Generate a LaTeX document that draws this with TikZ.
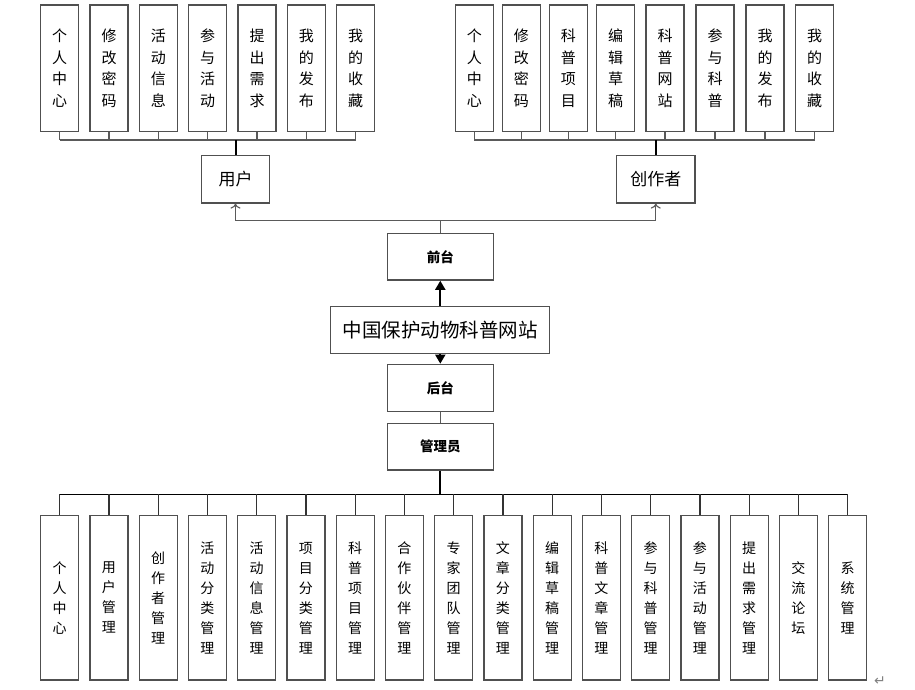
\documentclass[tikz,border=0pt]{standalone}
\usepackage{fontspec}
\newfontfamily\cjk{Noto Sans CJK SC}
\newfontfamily\sym{DejaVu Sans}
\usetikzlibrary{arrows.meta}
\definecolor{boxgray}{RGB}{80,80,80}
\definecolor{linegray}{RGB}{90,90,90}
\begin{document}
\begin{tikzpicture}[x=1pt,y=-1pt,
  box/.style={draw=boxgray, line width=1.3pt, fill=white, inner sep=0pt, align=center},
  topbox/.style={box, minimum width=38, minimum height=126.7, font=\cjk\fontsize{15}{21.7}\selectfont},
  botbox/.style={box, minimum width=38, minimum height=164.3, font=\cjk\fontsize{14}{20}\selectfont},
  rolebox/.style={box, minimum height=47.3, font=\cjk\fontsize{17}{20}\selectfont},
  midbox/.style={box, minimum width=106, minimum height=46.8, font=\cjk\bfseries\fontsize{13.5}{16}\selectfont},
  conn/.style={draw=linegray, line width=1.1pt},
  openarr/.style={conn, -{To[length=5pt,width=10pt]}},
  thickc/.style={draw=black, line width=2pt},
  filledarr/.style={draw=black, line width=1.8pt, -{Triangle[length=9pt,width=10pt]}}
]
\useasboundingbox (0,0) rectangle (915,689);

% ---- top-left (user) ----
\foreach \t [count=\i] in {{个\\人\\中\\心},{修\\改\\密\\码},{活\\动\\信\\息},{参\\与\\活\\动},{提\\出\\需\\求},{我\\的\\发\\布},{我\\的\\收\\藏}}
  \node[topbox] (u\i) at ({59.7+49.33*(\i-1)},68.3) {\t};
\node[rolebox, minimum width=67.6] (user) at (235.5,179.3) {用户};

% ---- top-right (creator) ----
\foreach \x/\t [count=\i] in {474.3/{个\\人\\中\\心},521.3/{修\\改\\密\\码},568.3/{科\\普\\项\\目},615.7/{编\\辑\\草\\稿},665/{科\\普\\网\\站},715/{参\\与\\科\\普},765/{我\\的\\发\\布},814.7/{我\\的\\收\\藏}}
  \node[topbox] (c\i) at (\x,68.3) {\t};
\node[rolebox, minimum width=78.3] (creator) at (655.8,179.3) {创作者};

% ---- centre ----
\node[midbox] (front) at (440.3,256.7) {前台};
\node[box, minimum width=218.6, minimum height=46.6, font=\cjk\fontsize{19.5}{22}\selectfont] (site) at (440,330) {中国保护动物科普网站};
\node[midbox, minimum height=47.4] (back) at (440.3,388) {后台};
\node[midbox] (admin) at (440.3,446.7) {管理员};

% ---- bottom (admin) ----
\foreach \t [count=\i] in {{个\\人\\中\\心},{用\\户\\管\\理},{创\\作\\者\\管\\理},{活\\动\\分\\类\\管\\理},{活\\动\\信\\息\\管\\理},{项\\目\\分\\类\\管\\理},{科\\普\\项\\目\\管\\理},{合\\作\\伙\\伴\\管\\理},{专\\家\\团\\队\\管\\理},{文\\章\\分\\类\\管\\理},{编\\辑\\草\\稿\\管\\理},{科\\普\\文\\章\\管\\理},{参\\与\\科\\普\\管\\理},{参\\与\\活\\动\\管\\理},{提\\出\\需\\求\\管\\理},{交\\流\\论\\坛},{系\\统\\管\\理}}
  \node[botbox] (a\i) at ({59.7+49.25*(\i-1)},597.9) {\t};

% ---- connectors: user ----
\coordinate (ubus) at (235.5,140);
\foreach \i in {1,...,7} \draw[conn] (u\i.south) -- (u\i.south |- ubus);
\draw[conn] (u1.south |- ubus) -- (u7.south |- ubus);
\draw[thickc] (ubus) -- (user.north);

% ---- connectors: creator ----
\coordinate (cbus) at (655.8,140);
\foreach \i in {1,...,8} \draw[conn] (c\i.south) -- (c\i.south |- cbus);
\draw[conn] (c1.south |- cbus) -- (c8.south |- cbus);
\draw[thickc] (cbus) -- (creator.north);

% ---- connectors: front ----
\coordinate (fbus) at (440.3,220.7);
\draw[conn] (front.north) -- (fbus);
\draw[openarr] (fbus) -| (user.south);
\draw[openarr] (fbus) -| (creator.south);

\draw[filledarr] (site.north -| front.north) -- (front.south);
\draw[filledarr] (site.south -| back.north) -- (back.north);
\draw[conn] (back.south) -- (admin.north);

% ---- connectors: admin ----
\coordinate (abus) at (440.3,494.3);
\draw[thickc] (admin.south) -- (abus);
\draw[draw=black, line width=1.2pt] (a1.north |- abus) -- (a17.north |- abus);
\foreach \i in {1,...,17} \draw[draw=black!80, line width=1.1pt] (a\i.north |- abus) -- (a\i.north);

\node[font=\sym\fontsize{14}{14}\selectfont, text=gray] (ret) at (880,681) {↵};
\end{tikzpicture}
\end{document}
